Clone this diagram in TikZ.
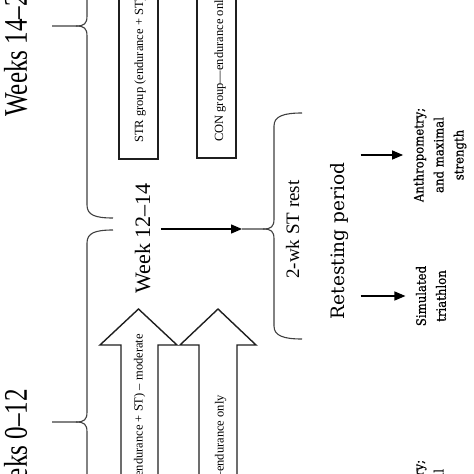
\documentclass[tikz,border=0pt]{standalone}
\usepackage{fontspec}
\setmainfont{Liberation Serif}
\newfontfamily\weekfont[FakeStretch=0.76]{Liberation Serif}
\newfontfamily\labfont{DejaVu Serif}
\newfontfamily\labboldfont[FakeStretch=0.9,FakeBold=0.6]{DejaVu Serif}
\usetikzlibrary{arrows.meta}
\begin{document}
\begin{tikzpicture}[x=1pt,y=-1pt,
  brace/.style={draw=black!75, line width=1.1pt},
  outline/.style={draw=black!88, line width=1.4pt},
  arr/.style={draw=black, line width=1.3pt, -{Triangle[length=11pt,width=9pt]}},
  bigtxt/.style={font=\weekfont\fontsize{33}{36}\selectfont, rotate=90, inner sep=0pt},
  midtxt/.style={font=\fontsize{22}{26}\selectfont, rotate=90},
  resttxt/.style={font=\fontsize{19}{22}\selectfont, rotate=90},
  grptxt/.style={font=\fontsize{12.5}{15}\selectfont, rotate=90, inner sep=0pt},
  rettxt/.style={font=\labfont\fontsize{18.5}{22}\selectfont, rotate=90},
  labtxt/.style={font=\labboldfont\fontsize{13}{20}\selectfont, rotate=90, align=center}
]
\useasboundingbox (0,0) rectangle (474,474);
\fill[white] (0,0) rectangle (474,474);
\clip (0,0) rectangle (474,474);

% period labels
\node[bigtxt, anchor=base west] (wkA) at (27,117) {Weeks 14–2};
\node[bigtxt, anchor=base east] (wkB) at (27,389) {Weeks 0–12};

% braces on the left
\draw[brace] (87,-30) -- (87,16) .. controls (87,24) and (84,26) .. (76,26) -- (52,26);
\draw[brace] (76,26) .. controls (84,26) and (87,28) .. (87,36) -- (87,205)
  .. controls (87,215) and (95,218) .. (113,218);
\draw[brace] (113,230) .. controls (95,230) and (87,233) .. (87,243) -- (87,412)
  .. controls (87,420) and (84,422) .. (76,422) -- (52,422);
\draw[brace] (76,422) .. controls (84,422) and (87,424) .. (87,432) -- (87,500);

% group boxes (weeks 14-2x)
\draw[outline] (119,-20) rectangle (158,159);
\draw[outline] (197,-20) rectangle (236,158);
\node[grptxt, anchor=base west] (strbox) at (143,143) {STR group (endurance + ST)};
\node[grptxt, anchor=base west] (conbox) at (223,142) {CON group—endurance only};

% block arrows (weeks 0-12)
\draw[outline] (121,500) -- (121,345) -- (100,345) -- (138.5,309) -- (177,345) -- (158,345) -- (158,500);
\draw[outline] (199,500) -- (199,345) -- (180,345) -- (218,309) -- (256,345) -- (237,345) -- (237,500);
\node[grptxt, anchor=base east] (strarr) at (142.5,334) {STR group (endurance + ST) – moderate};
\node[grptxt, anchor=base east] (conarr) at (223.5,395) {CON group—endurance only};

% week 12-14
\node[midtxt, anchor=base] (wk) at (150,238.5) {Week 12–14};

% rest brace
\draw[brace] (302,113) .. controls (284,113) and (274,116) .. (274,126) -- (274,219)
  .. controls (274,227) and (271,229) .. (263,229) -- (242,229);
\draw[brace] (263,229) .. controls (271,229) and (274,231) .. (274,239) -- (274,326)
  .. controls (274,336) and (284,339) .. (302,339);
\coordinate (restTip) at (242,229);
\node[resttxt, anchor=base] (rest) at (299,229.5) {2-wk ST rest};
\draw[arr, shorten <=7pt] (wk.south |- restTip) -- (restTip);

% retesting
\node[rettxt, anchor=base] (retest) at (344,241) {Retesting period};
\node[labtxt] (sim) at (431,296) {Simulated\\triathlon};
\node[labtxt] (anth) at (440,155) {Anthropometry;\\and maximal\\strength};
\node[labtxt] (anthB) at (440,507) {Anthropometry;\\and maximal\\strength};
\draw[arr, shorten <=9pt, shorten >=7pt] (retest.south |- sim.north) -- (sim.north);
\draw[arr, shorten <=9pt, shorten >=7pt] (retest.south |- anth.north) -- (anth.north);
\end{tikzpicture}
\end{document}
